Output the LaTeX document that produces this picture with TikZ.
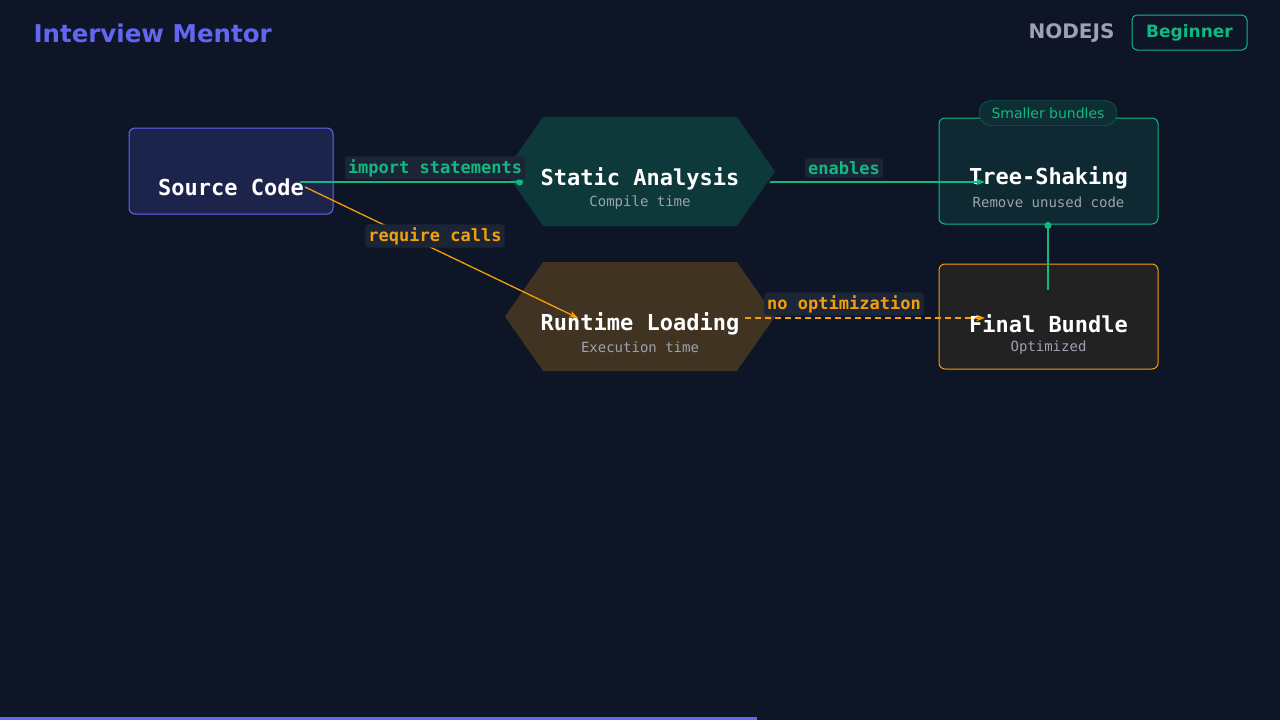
\documentclass[tikz,border=0pt]{standalone}
\usepackage{fontspec}
\setmainfont{DejaVu Sans}
\newfontfamily\monofont{DejaVu Sans Mono}
\usetikzlibrary{arrows.meta}
\usetikzlibrary{shapes.symbols}
\definecolor{bgdark}{HTML}{0E1527}
\definecolor{indigo}{HTML}{6366F1}
\definecolor{emerald}{HTML}{10B981}
\definecolor{amber}{HTML}{F59E0B}
\definecolor{greytext}{HTML}{9CA3AF}
\definecolor{lblbg}{HTML}{1C2535}
\definecolor{bundlebg}{HTML}{232222}
\tikzset{
    box/.style = {rectangle, rounded corners=6pt, line width=1pt},
    hexa/.style = {signal, signal to=east and west, signal pointer angle=110, minimum width=270pt, minimum height=109pt, inner sep=0pt},
    title/.style = {text=white, font=\monofont\fontsize{22}{26}\selectfont\bfseries, inner sep=0pt},
    subtitle/.style = {text=greytext, font=\monofont\fontsize{14}{16}\selectfont, inner sep=0pt},
    elabel/.style = {font=\monofont\fontsize{17}{20}\selectfont\bfseries, fill=lblbg, inner sep=3pt, rounded corners=3pt},
    conn/.style = {line width=1.3pt}
}
\begin{document}
\begin{tikzpicture}[x=1pt, y=-1pt]
    \fill[bgdark] (0,0) rectangle (1280,720);
    \useasboundingbox (0,0) rectangle (1280,720);
    % header
    \node[anchor=west, text=indigo, font=\fontsize{24.5}{28}\selectfont\bfseries] (brand) at (30,33) {Interview Mentor};
    \node[draw=emerald, text=emerald, rounded corners=5pt, line width=1pt, minimum width=115pt, minimum height=35pt, font=\fontsize{17}{20}\selectfont\bfseries] (level) at (1189.5,32.5) {Beginner};
    \node[anchor=east, text=greytext, font=\fontsize{20}{24}\selectfont\bfseries] (topic) at (1118,33) {NODEJS};
    \fill[indigo] (0,717) rectangle (757,720);
    % nodes
    \node[box, draw=indigo, fill=indigo!18!bgdark, minimum width=204pt, minimum height=86pt] (source) at (231,171) {};
    \node[hexa, fill=emerald!22!bgdark] (static) at (640,171.5) {};
    \node[hexa, fill=amber!22!bgdark] (runtime) at (640,316.5) {};
    \node[box, draw=emerald, fill=emerald!12!bgdark, minimum width=219pt, minimum height=106pt] (shaking) at (1048.5,171) {};
    \node[box, draw=amber, fill=bundlebg, minimum width=219pt, minimum height=105pt] (bundle) at (1048.5,316.5) {};
    \node[draw=emerald!60!bgdark, fill=emerald!15!bgdark, text=emerald, rounded corners=12pt, minimum width=138pt, minimum height=25pt, font=\fontsize{14}{16}\selectfont] (badge) at (1048,113) {Smaller bundles};
    % node texts
    \node[title] (sourcet) at ([yshift=-16pt]source.center) {Source Code};
    \node[title] (statict) at ([yshift=-7pt]static.center) {Static Analysis};
    \node[subtitle] (statics) at ([yshift=-31pt]static.center) {Compile time};
    \node[title] (runtimet) at ([yshift=-7pt]runtime.center) {Runtime Loading};
    \node[subtitle] (runtimes) at ([yshift=-31pt]runtime.center) {Execution time};
    \node[title] (shakingt) at ([yshift=-7pt]shaking.center) {Tree-Shaking};
    \node[subtitle] (shakings) at ([yshift=-31pt]shaking.center) {Remove unused code};
    \node[title] (bundlet) at ([yshift=-7pt]bundle.center) {Final Bundle};
    \node[subtitle] (bundles) at ([yshift=-31pt]bundle.center) {Optimized};
    % connectors
    \coordinate (srcR) at (300,182);
    \coordinate (stL) at (523,182);
    \coordinate (stR) at (770,182);
    \coordinate (tsL) at (985,182);
    \coordinate (srcD) at (305,187);
    \coordinate (rtL) at (578,318);
    \coordinate (rtR) at (745,318);
    \coordinate (fbL) at (985,318);
    \coordinate (tsB) at (1048,222);
    \coordinate (fbT) at (1048,290);
    \draw[conn, emerald, -{Circle[length=7pt]}] (srcR) -- (stL);
    \draw[conn, emerald, -{Stealth[length=9pt]}] (stR) -- (tsL);
    \draw[conn, amber, -{Stealth[length=9pt]}] (srcD) -- (rtL);
    \draw[conn, amber, dash pattern=on 6pt off 4pt, -{Stealth[length=9pt]}] (rtR) -- (fbL);
    \draw[conn, emerald, {Circle[length=7pt]}-] (tsB) -- (fbT);
    \node[elabel, text=emerald] (lbimport) at (435,168) {import statements};
    \node[elabel, text=emerald] (lbenables) at (844,168) {enables};
    \node[elabel, text=amber] (lbrequire) at (435,236) {require calls};
    \node[elabel, text=amber] (lbnoopt) at (844,304) {no optimization};
\end{tikzpicture}
\end{document}
